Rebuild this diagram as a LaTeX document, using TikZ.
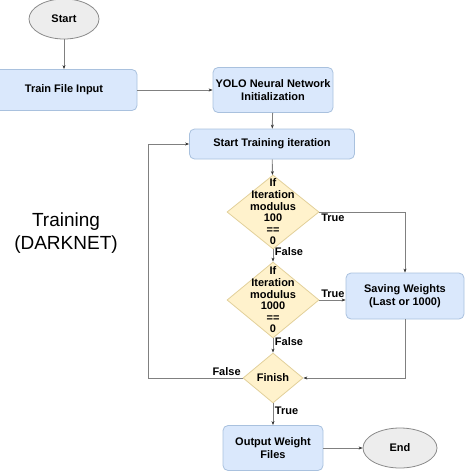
\documentclass[tikz,border=0pt]{standalone}
\usepackage{fontspec}
\setmainfont{Liberation Sans}
\usetikzlibrary{shapes.geometric,arrows.meta}
\definecolor{boxfill}{HTML}{DAE8FC}
\definecolor{boxline}{HTML}{A9C1DE}
\definecolor{decfill}{HTML}{FFF2CC}
\definecolor{decline}{HTML}{E2D09A}
\definecolor{termfill}{HTML}{EDEDED}
\definecolor{termline}{HTML}{8A8A8A}
\definecolor{flowline}{HTML}{808080}

\begin{document}
\begin{tikzpicture}[x=1pt,y=-1pt,
font=\fontsize{11}{12.5}\selectfont\bfseries,
procbox/.style={draw=boxline,fill=boxfill,rounded corners=5pt,line width=0.8pt,align=center,inner sep=0pt},
decide/.style={draw=decline,fill=decfill,shape=diamond,inner sep=0pt,line width=0.8pt},
terminal/.style={draw=termline,fill=termfill,shape=ellipse,inner sep=0pt,line width=0.8pt},
flow/.style={draw=flowline,line width=0.9pt,-{Stealth[length=4pt,width=3pt,black!80]}},
lbl/.style={inner sep=1.5pt,text=black},
modtext/.style={align=center,lbl,font=\fontsize{11}{11.6}\selectfont\bfseries}
]
\useasboundingbox (0,0) rectangle (474,474);

% The nodes
\node[terminal,minimum width=70pt,minimum height=40pt] (start) at (64,19) {Start};
\node[procbox,minimum width=146pt,minimum height=41pt] (train) at (64,90) {Train File Input};
\node[procbox,minimum width=120pt,minimum height=45pt] (yolo) at (273,90) {YOLO Neural Network\\Initialization};
\node[procbox,minimum width=165pt,minimum height=30pt] (iter) at (272,144) {Start Training iteration};
\node[decide,minimum width=92pt,minimum height=74pt,label={[modtext]center:If\\Iteration\\modulus\\100\\==\\0}] (mod100) at (273,212) {};
\node[decide,minimum width=92pt,minimum height=76pt,label={[modtext]center:If\\Iteration\\modulus\\1000\\==\\0}] (mod1000) at (273,300) {};
\node[procbox,minimum width=118pt,minimum height=46pt] (save) at (405,296) {Saving Weights\\(Last or 1000)};
\node[decide,minimum width=60pt,minimum height=50pt] (finish) at (273,378) {Finish};
\node[procbox,minimum width=100pt,minimum height=45pt] (output) at (273,448) {Output Weight\\Files};
\node[terminal,minimum width=74pt,minimum height=40pt] (end) at (400,448) {End};
\node[font=\fontsize{19}{23}\selectfont,align=center] (title) at (66,233) {Training\\(DARKNET)};

% The connectors
\coordinate (loop) at (148,144);
\draw[flow] (start) -- (train);
\draw[flow] (train) -- (yolo);
\draw[flow] (yolo) -- (iter);
\draw[flow] (iter) -- (mod100);
\draw[flow] (mod100.east) node[lbl,below right] {True} -| (save.north);
\draw[flow] (mod100.south) -- node[lbl,right,pos=0.2] {False} (mod1000.north);
\draw[flow] (mod1000.east) node[lbl,above right] {True} -- (mod1000.east -| save.west);
\draw[flow] (mod1000.south) -- node[lbl,right,pos=0.2] {False} (finish.north);
\draw[flow] (save.south) |- (finish.east);
\draw[flow] (finish.west) node[lbl,above left] {False} -| (loop) -- (iter.west);
\draw[flow] (finish.south) -- node[lbl,right,pos=0.35] {True} (output.north);
\draw[flow] (output) -- (end);
\end{tikzpicture}
\end{document}
